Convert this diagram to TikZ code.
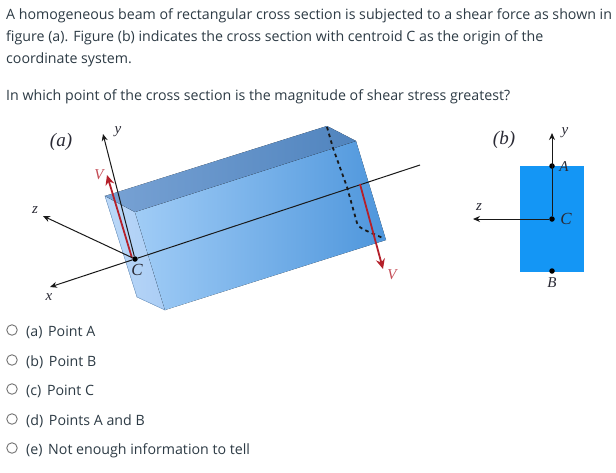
\documentclass[tikz,border=0pt]{standalone}
\usepackage{fontspec}
\setmainfont{Open Sans}
\newfontfamily\lblfont{Liberation Serif}[ItalicFont=Liberation Serif Italic]
\usetikzlibrary{arrows.meta}
\definecolor{txt}{HTML}{2D3B45}
\definecolor{lbl}{HTML}{2A2A35}
\definecolor{redv}{HTML}{B5202A}
\tikzset{
  para/.style={anchor=base west,inner sep=0pt,text=txt,font=\fontsize{14.2}{16}\selectfont},
  opt/.style={anchor=base west,inner sep=0pt,text=txt,font=\fontsize{14.2}{16}\selectfont},
  radio/.style={circle,draw=black!55,line width=0.9pt,minimum size=10.5pt,inner sep=0pt},
  lab/.style={inner sep=0pt,text=lbl,font=\lblfont\itshape\fontsize{15}{17}\selectfont},
  biglab/.style={inner sep=0pt,text=lbl,font=\lblfont\itshape\fontsize{17}{19}\selectfont},
  figlab/.style={inner sep=0pt,text=lbl,font=\lblfont\itshape\fontsize{19}{21}\selectfont},
  axis/.style={draw=black!90,line width=1pt,-{Stealth[length=7pt,width=6pt]}},
  shear/.style={draw=redv,line width=1.8pt,-{Stealth[length=10pt,width=9pt]}},
  pt/.style={circle,fill=black,inner sep=0pt,minimum size=5.5pt},
  hidden/.style={draw=black!90,line width=1.8pt,dash pattern=on 3.5pt off 3.5pt}
}
\begin{document}
\begin{tikzpicture}[x=1pt,y=-1pt]
\useasboundingbox (0,0) rectangle (616,472);
\fill[white] (0,0) rectangle (616,472);
\node[para] (l1) at (6,19) {A homogeneous beam of rectangular cross section is subjected to a shear force as shown in};
\node[para] (l2) at (6,41) {figure (a). Figure (b) indicates the cross section with centroid C as the origin of the};
\node[para] (l3) at (6,63) {coordinate system.};
\node[para] (q) at (6,100) {In which point of the cross section is the magnitude of shear stress greatest?};
% beam
\coordinate (ftl) at (105,196);
\coordinate (ftr) at (135,212);
\coordinate (fbr) at (165,310);
\coordinate (fbl) at (137,297);
\coordinate (btl) at (327,126);
\coordinate (btr) at (356,141);
\coordinate (bbr) at (386,240);
\fill[left color={rgb,255:red,187;green,216;blue,248},right color={rgb,255:red,170;green,205;blue,245}] (ftl) -- (ftr) -- (fbr) -- (fbl) -- cycle;
\draw[color={rgb,255:red,130;green,170;blue,215},line width=0.5pt] (ftl) -- (ftr) -- (fbr) -- (fbl) -- cycle;
\fill[left color={rgb,255:red,160;green,204;blue,246},right color={rgb,255:red,78;green,150;blue,220}] (ftr) -- (btr) -- (bbr) -- (fbr) -- cycle;
\fill[left color={rgb,255:red,120;green,162;blue,212},right color={rgb,255:red,80;green,132;blue,190}] (ftl) -- (btl) -- (btr) -- (ftr) -- cycle;
% section b
\fill[color={rgb,255:red,20;green,150;blue,245}] (520,166) rectangle (584,272);
% axes a
\coordinate (v1s) at (132,258);
\coordinate (v1e) at (107,175);
\coordinate (yEnd) at (103,134);
\coordinate (zEnd) at (43,216);
\coordinate (xEnd) at (50,287);
\coordinate (axisFar) at (420,165);
\draw[hidden] (327,127) -- (333,148) -- (347,187) -- (357,223) .. controls (359,228) and (362,229) .. (383,238);
\draw[shear] (v1s) -- (v1e);
\node[pt] (Ca) at (135,259) {};
\node[lab] (yTipA) at (118,132) {y};
\node[lab] (zTipA) at (35,210) {z};
\node[lab] (xTipA) at (49,297) {x};
\draw[axis] (Ca) -- (yEnd);
\draw[axis] (Ca) -- (zEnd);
\draw[axis] (Ca) -- (xEnd);
\draw[draw=black!90,line width=1pt] (Ca) -- (axisFar);
\coordinate (v2s) at (360,184);
\coordinate (v2e) at (383,269);
\draw[shear] (v2s) -- (v2e);
\node[lab,text=redv!80!white] (V1) at (99,175) {V};
\node[lab,text=redv!80!white] (V2) at (392,275) {V};
\node[biglab] (CaL) at (137,270) {C};
\node[figlab] (a) at (61,142) {(a)};
% axes b
\node[figlab] (b) at (504,140) {(b)};
\node[pt] (C) at (552,219) {};
\node[pt] (A) at (552,166) {};
\node[pt] (B) at (552,271) {};
\coordinate (yb) at (552,133);
\coordinate (zb) at (473,219);
\draw[axis] (C) -- (yb);
\draw[axis] (C) -- (zb);
\node[lab] (ybL) at (565,133) {y};
\node[lab] (zbL) at (479,207) {z};
\node[lab] (AL) at (564,167) {A};
\node[biglab] (CL) at (566,219) {C};
\node[lab] (BL) at (552,283) {B};
% options
\node[radio] (r1) at (12,330) {};
\node[opt] (o1) at (26,336) {(a)\hspace{0.4em}Point A};
\node[radio] (r2) at (12,360) {};
\node[opt] (o2) at (26,366) {(b)\hspace{0.4em}Point B};
\node[radio] (r3) at (12,389) {};
\node[opt] (o3) at (26,395) {(c)\hspace{0.4em}Point C};
\node[radio] (r4) at (12,419) {};
\node[opt] (o4) at (26,425) {(d)\hspace{0.4em}Points A and B};
\node[radio] (r5) at (12,448) {};
\node[opt] (o5) at (26,454) {(e)\hspace{0.4em}Not enough information to tell};
\end{tikzpicture}
\end{document}
